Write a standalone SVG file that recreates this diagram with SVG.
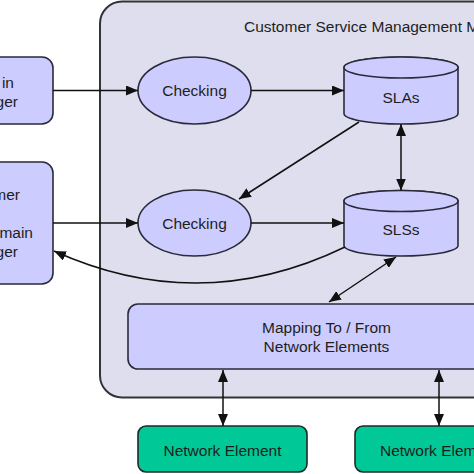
<svg xmlns="http://www.w3.org/2000/svg" width="474" height="474" viewBox="0 0 474 474">
<style>
  text { font-family: "Liberation Sans", Arial, sans-serif; font-size: 15.5px; fill: #1e1e1e; }
  .node { fill: #ccccff; stroke: #2a2a3a; stroke-width: 1.6; }
  .ne { fill: #00c896; stroke: #1f2a26; stroke-width: 1.6; }
  .conn { fill: none; stroke: #111; stroke-width: 1.5; }
</style>
<defs>
  <marker id="ah" viewBox="0 0 12 10" refX="12" refY="5" markerWidth="12" markerHeight="10" markerUnits="userSpaceOnUse" orient="auto-start-reverse">
    <path d="M0,0 L12,5 L0,10 Z" fill="#111"/>
  </marker>
</defs>
<rect width="474" height="474" fill="#ffffff"/>
<g id="container">
  <rect x="100" y="1.5" width="400" height="396" rx="22" fill="#dedeee" stroke="#333" stroke-width="2"/>
  <text x="244" y="32">Customer Service Management M</text>
</g>
<g id="domain-manager">
  <rect class="node" x="-20" y="57" width="73" height="67" rx="11"/>
  <text x="14" y="88" text-anchor="end">in</text>
  <text x="18" y="107" text-anchor="end">ger</text>
</g>
<g id="customer-domain-manager">
  <rect class="node" x="-20" y="162" width="73" height="122" rx="11"/>
  <text x="20" y="200" text-anchor="end">mer</text>
  <text x="33" y="238" text-anchor="end">main</text>
  <text x="18" y="257" text-anchor="end">ger</text>
</g>
<g id="checking1">
  <ellipse class="node" cx="194.5" cy="90.5" rx="56.5" ry="33.5"/>
  <text x="194.5" y="96" text-anchor="middle">Checking</text>
</g>
<g id="checking2">
  <ellipse class="node" cx="194.5" cy="223" rx="56.5" ry="33"/>
  <text x="194.5" y="228.5" text-anchor="middle">Checking</text>
</g>
<g id="slas">
  <path class="node" d="M344,67.5 L344,113.5 A57,10.5 0 0 0 458,113.5 L458,67.5 A57,10.5 0 0 0 344,67.5 Z"/>
  <ellipse class="node" cx="401" cy="67.5" rx="57" ry="10.5"/>
  <text x="401" y="102.5" text-anchor="middle">SLAs</text>
</g>
<g id="slss">
  <path class="node" d="M344,201 L344,245.5 A57,10.5 0 0 0 458,245.5 L458,201 A57,10.5 0 0 0 344,201 Z"/>
  <ellipse class="node" cx="401" cy="201" rx="57" ry="10.5"/>
  <text x="401" y="234.5" text-anchor="middle">SLSs</text>
</g>
<g id="mapping">
  <rect class="node" x="128" y="304" width="370" height="65" rx="10"/>
  <text x="326.5" y="333" text-anchor="middle">Mapping To / From</text>
  <text x="326.5" y="351.5" text-anchor="middle">Network Elements</text>
</g>
<g id="network-element-1">
  <rect class="ne" x="138" y="426" width="169" height="46" rx="8"/>
  <text x="222.5" y="456" text-anchor="middle">Network Element</text>
</g>
<g id="network-element-2">
  <rect class="ne" x="355" y="426" width="160" height="46" rx="8"/>
  <text x="380" y="456">Network Element</text>
</g>
<g id="connectors">
  <line class="conn" x1="53" y1="90.5" x2="138" y2="90.5" marker-end="url(#ah)"/>
  <line class="conn" x1="53" y1="223" x2="138" y2="223" marker-end="url(#ah)"/>
  <line class="conn" x1="251" y1="90.5" x2="344" y2="90.5" marker-end="url(#ah)"/>
  <line class="conn" x1="251" y1="223" x2="344" y2="223" marker-end="url(#ah)"/>
  <line class="conn" x1="401" y1="124" x2="401" y2="190.5" marker-start="url(#ah)" marker-end="url(#ah)"/>
  <line class="conn" x1="359" y1="122" x2="239" y2="199" marker-end="url(#ah)"/>
  <path class="conn" d="M345,247 Q200,317 54,251" marker-end="url(#ah)"/>
  <line class="conn" x1="396" y1="257" x2="329" y2="302" marker-start="url(#ah)" marker-end="url(#ah)"/>
  <line class="conn" x1="223" y1="370" x2="223" y2="426" marker-start="url(#ah)" marker-end="url(#ah)"/>
  <line class="conn" x1="439" y1="370" x2="439" y2="426" marker-start="url(#ah)" marker-end="url(#ah)"/>
</g>
</svg>
